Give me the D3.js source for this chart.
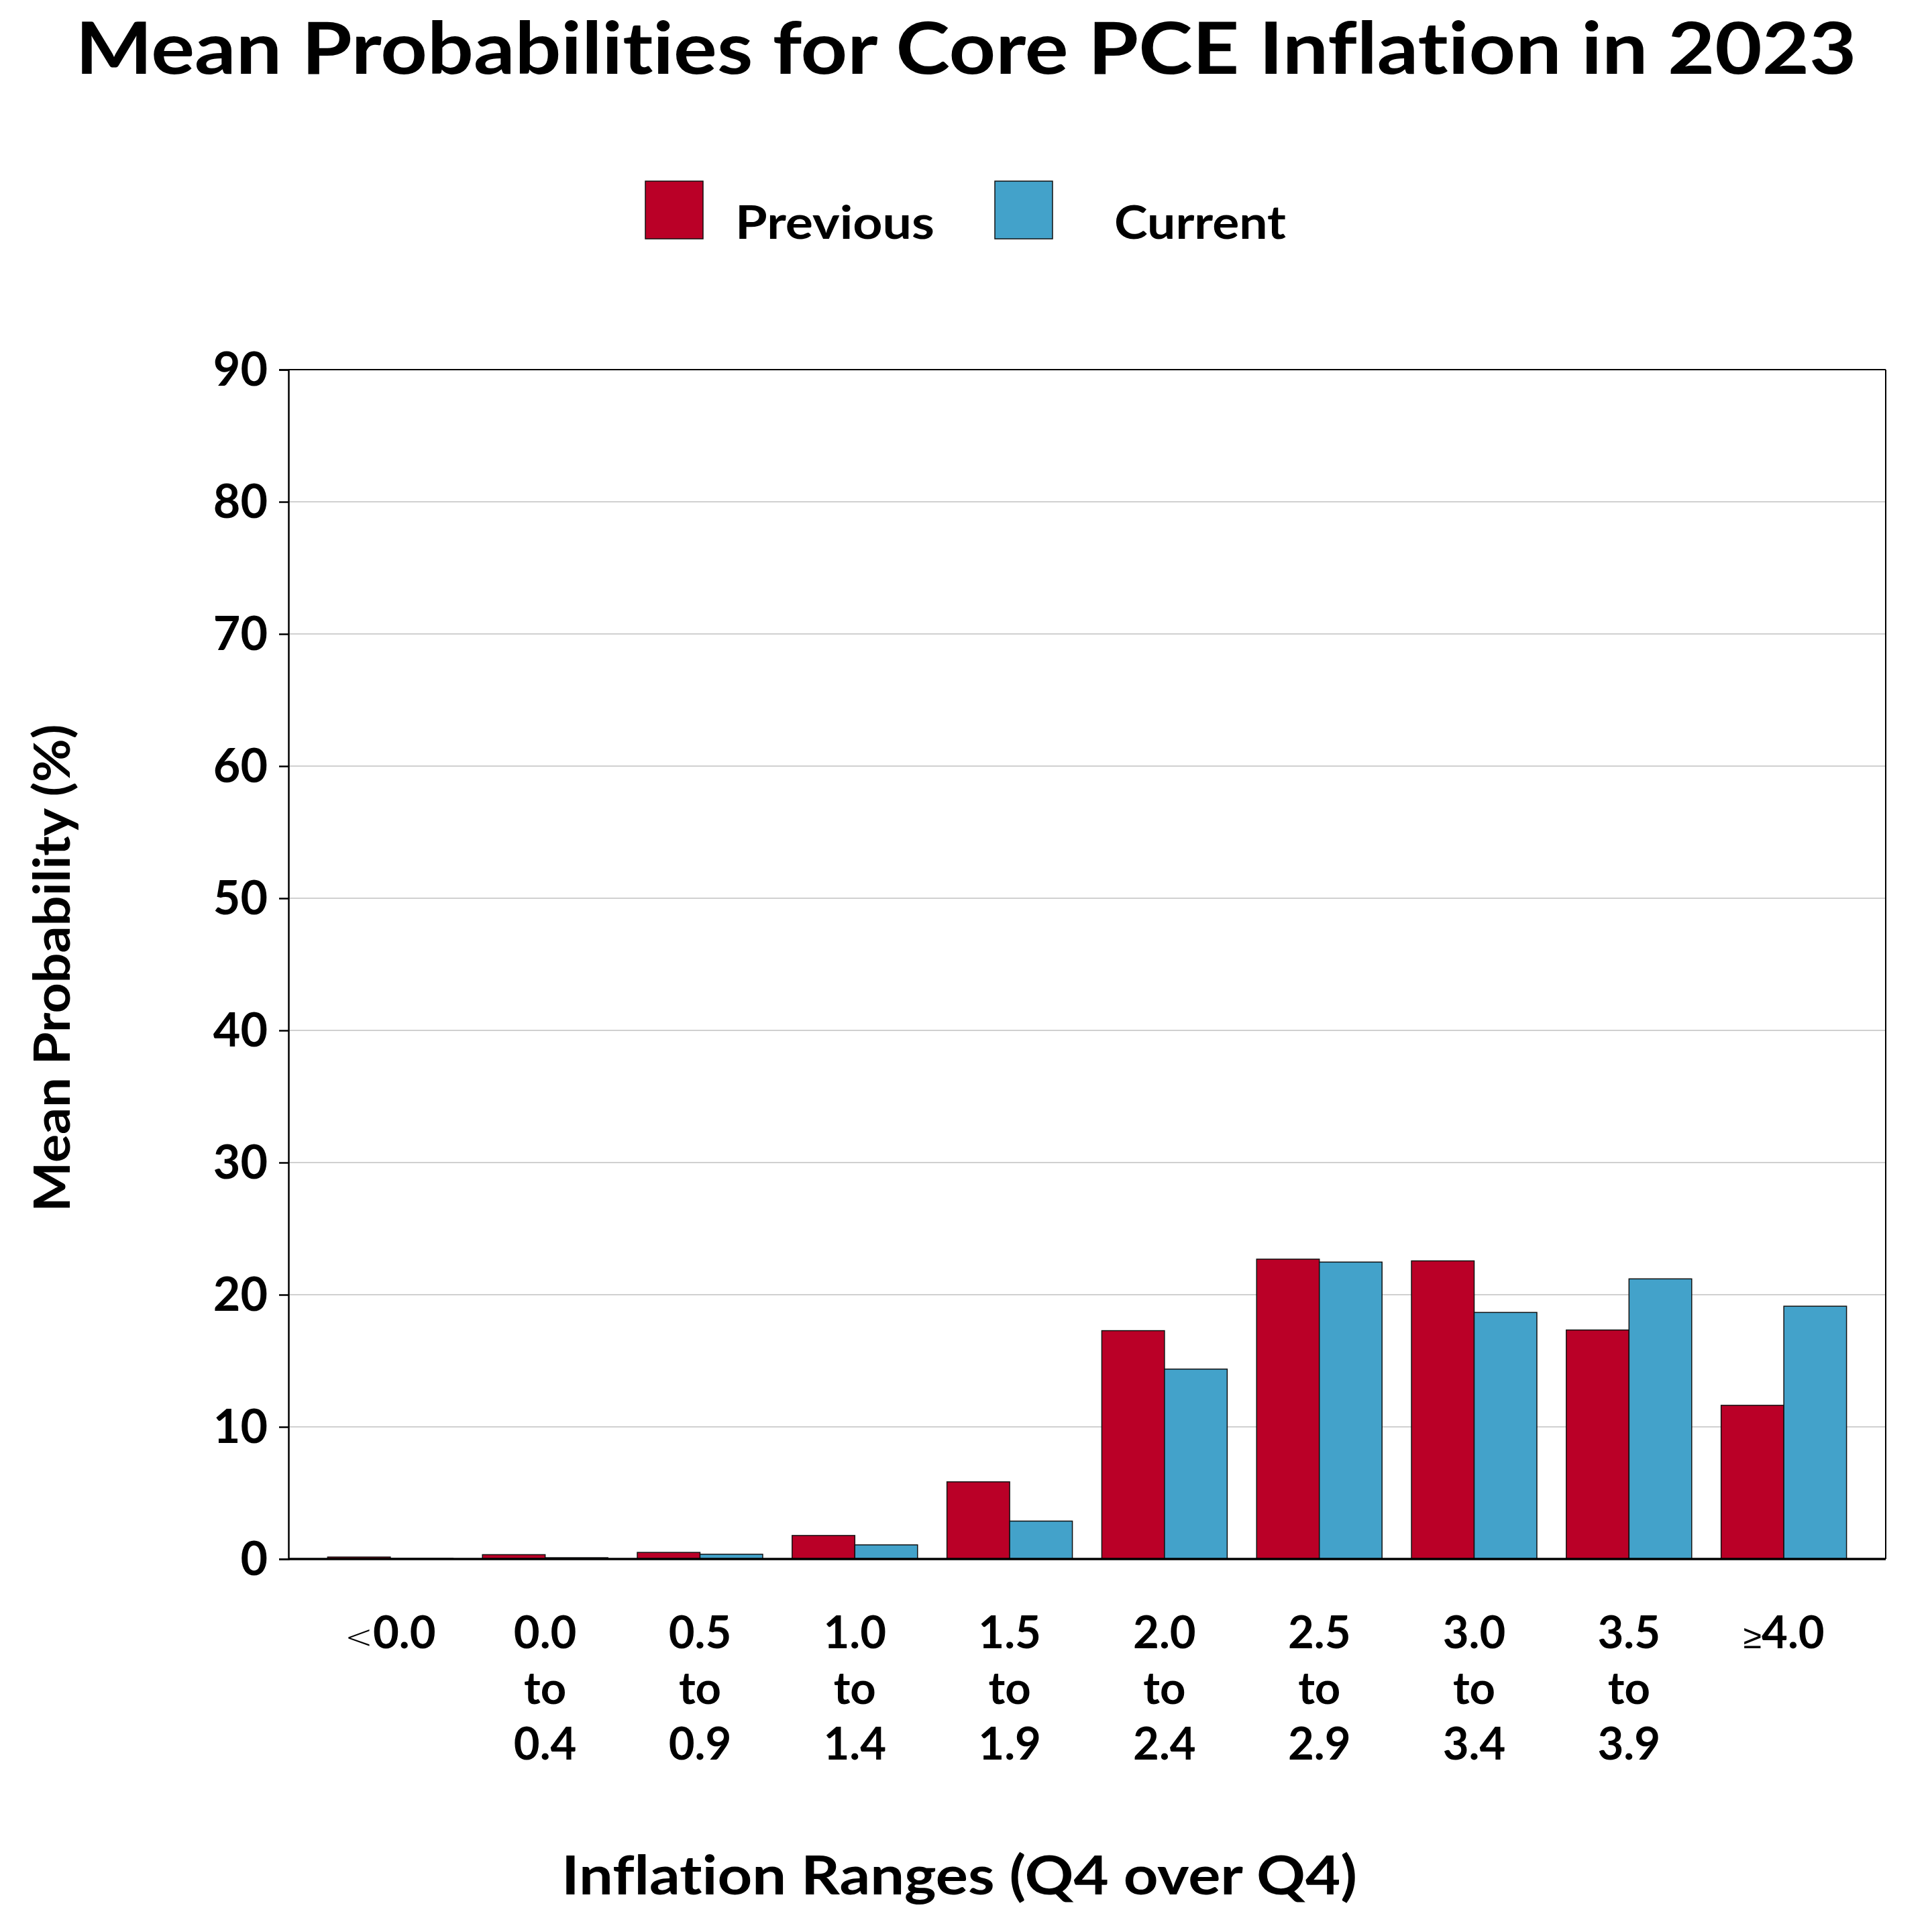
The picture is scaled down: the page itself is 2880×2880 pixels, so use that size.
<!DOCTYPE html>
<html>
<head>
<meta charset="utf-8">
<script src="https://cdn.jsdelivr.net/npm/d3@7"></script>
<style>
  body { margin: 0; background: #fff; }
  text { font-family: Lato, "Open Sans", sans-serif; font-weight: 700; fill: #000;
         font-variant-ligatures: none; font-feature-settings: "liga" 0, "clig" 0; }
</style>
</head>
<body>
<svg id="chart"></svg>
<script>
const width = 2880;
const height = 2880;

// Data
const categories = ["<0.0", "0.0\nto\n0.4", "0.5\nto\n0.9", "1.0\nto\n1.4", "1.5\nto\n1.9",
                    "2.0\nto\n2.4", "2.5\nto\n2.9", "3.0\nto\n3.4", "3.5\nto\n3.9", "≥4.0"];
const previous = [0.15, 0.33, 0.5, 1.78, 5.84, 17.28, 22.69, 22.56, 17.33, 11.63];
const current  = [0.05, 0.1, 0.36, 1.07, 2.87, 14.37, 22.47, 18.66, 21.2, 19.13];
const seriesNames = ["Previous", "Current"];
const seriesColors = ["#BA0027", "#43A2CA"];
const yTicks = [0, 10, 20, 30, 40, 50, 60, 70, 80, 90];

const margin = { top: 551, right: 69, bottom: 556, left: 430 };
const plotW = width - margin.left - margin.right;
const plotH = height - margin.top - margin.bottom;

const svg = d3.select("#chart")
    .attr("width", width)
    .attr("height", height)
    .attr("viewBox", `0 0 ${width} ${height}`);

const x = d3.scaleBand()
    .domain(categories)
    .range([margin.left, margin.left + plotW])
    .paddingInner(0.19)
    .paddingOuter(0.253);

const xSub = d3.scaleBand()
    .domain(seriesNames)
    .range([0, x.bandwidth()]);

const y = d3.scaleLinear()
    .domain([0, 90])
    .range([margin.top + plotH, margin.top]);

// gridlines
svg.append("g")
    .selectAll("line")
    .data(yTicks.filter(d => d > 0 && d < 90))
    .enter().append("line")
    .attr("x1", margin.left)
    .attr("x2", margin.left + plotW)
    .attr("y1", d => y(d))
    .attr("y2", d => y(d))
    .attr("stroke", "#d0d0d0")
    .attr("stroke-width", 2);

// bars
const rows = categories.map((c, i) => ({ cat: c, values: [previous[i], current[i]] }));

svg.append("g")
    .selectAll("g")
    .data(rows)
    .enter().append("g")
    .attr("transform", d => `translate(${x(d.cat)},0)`)
    .selectAll("rect")
    .data(d => d.values.map((v, j) => ({ name: seriesNames[j], value: v, color: seriesColors[j] })))
    .enter().append("rect")
    .attr("x", d => xSub(d.name))
    .attr("width", xSub.bandwidth())
    .attr("y", d => y(d.value))
    .attr("height", d => y(0) - y(d.value))
    .attr("fill", d => d.color)
    .attr("stroke", "#111")
    .attr("stroke-width", 1.5);

// frame
svg.append("line")
    .attr("x1", margin.left + plotW).attr("x2", margin.left + plotW)
    .attr("y1", margin.top).attr("y2", margin.top + plotH)
    .attr("stroke", "#000").attr("stroke-width", 2);
svg.append("line")
    .attr("x1", margin.left).attr("x2", margin.left + plotW)
    .attr("y1", margin.top).attr("y2", margin.top)
    .attr("stroke", "#000").attr("stroke-width", 2);

// y axis
const yAxis = svg.append("g")
    .attr("transform", `translate(${margin.left},0)`)
    .call(d3.axisLeft(y).tickValues(yTicks).tickSize(14).tickPadding(17));
yAxis.select(".domain").attr("stroke", "#000").attr("stroke-width", 2.5);
yAxis.selectAll(".tick line").attr("stroke", "#000").attr("stroke-width", 2.5);
yAxis.selectAll(".tick text")
    .attr("font-family", null)
    .attr("font-size", null)
    .style("font-size", "70px")
    .attr("dy", "0.34em");

// baseline
svg.append("line")
    .attr("x1", margin.left).attr("x2", margin.left + plotW)
    .attr("y1", y(0)).attr("y2", y(0))
    .attr("stroke", "#000").attr("stroke-width", 3.5);

// x tick labels, one text per line
const lineGap = 83;
categories.forEach(d => {
    const cx = x(d) + x.bandwidth() / 2;
    d.split("\n").forEach((line, i) => {
        const t = svg.append("text")
            .attr("x", cx)
            .attr("y", 2457 + i * lineGap)
            .attr("text-anchor", "middle")
            .style("font-size", "67px");
        const sym = line[0];
        if (sym === "<" || sym === "≥") {
            t.append("tspan")
                .style("font-weight", 200)
                .style("font-size", "50px")
                .style("font-family", "'DejaVu Sans', sans-serif")
                .text(sym);
            t.append("tspan").text(line.slice(1));
        } else {
            t.text(line);
        }
    });
});

// title
svg.append("text")
    .attr("x", 1440)
    .attr("y", 110)
    .attr("text-anchor", "middle")
    .attr("textLength", 2655)
    .attr("lengthAdjust", "spacingAndGlyphs")
    .style("font-size", "108px")
    .text("Mean Probabilities for Core PCE Inflation in 2023");

// axis titles
svg.append("text")
    .attr("x", 1430)
    .attr("y", 2824)
    .attr("text-anchor", "middle")
    .attr("textLength", 1186)
    .attr("lengthAdjust", "spacingAndGlyphs")
    .style("font-size", "80px")
    .text("Inflation Ranges (Q4 over Q4)");

svg.append("text")
    .attr("transform", "translate(104,1443) rotate(-90)")
    .attr("text-anchor", "middle")
    .attr("textLength", 727)
    .attr("lengthAdjust", "spacingAndGlyphs")
    .style("font-size", "74px")
    .text("Mean Probability (%)");

// legend
const legendX = [962, 1483];
const legendTextX = [1096, 1661];
const legendTextW = [297, 256];
const legend = svg.append("g")
    .selectAll("g")
    .data(seriesNames)
    .enter().append("g");

legend.append("rect")
    .attr("x", (d, i) => legendX[i])
    .attr("y", 270)
    .attr("width", 86)
    .attr("height", 86)
    .attr("fill", (d, i) => seriesColors[i])
    .attr("stroke", "#111")
    .attr("stroke-width", 1.5);

legend.append("text")
    .attr("x", (d, i) => legendTextX[i])
    .attr("y", 356)
    .attr("textLength", (d, i) => legendTextW[i])
    .attr("lengthAdjust", "spacingAndGlyphs")
    .style("font-size", "68px")
    .text(d => d);
</script>
</body>
</html>
